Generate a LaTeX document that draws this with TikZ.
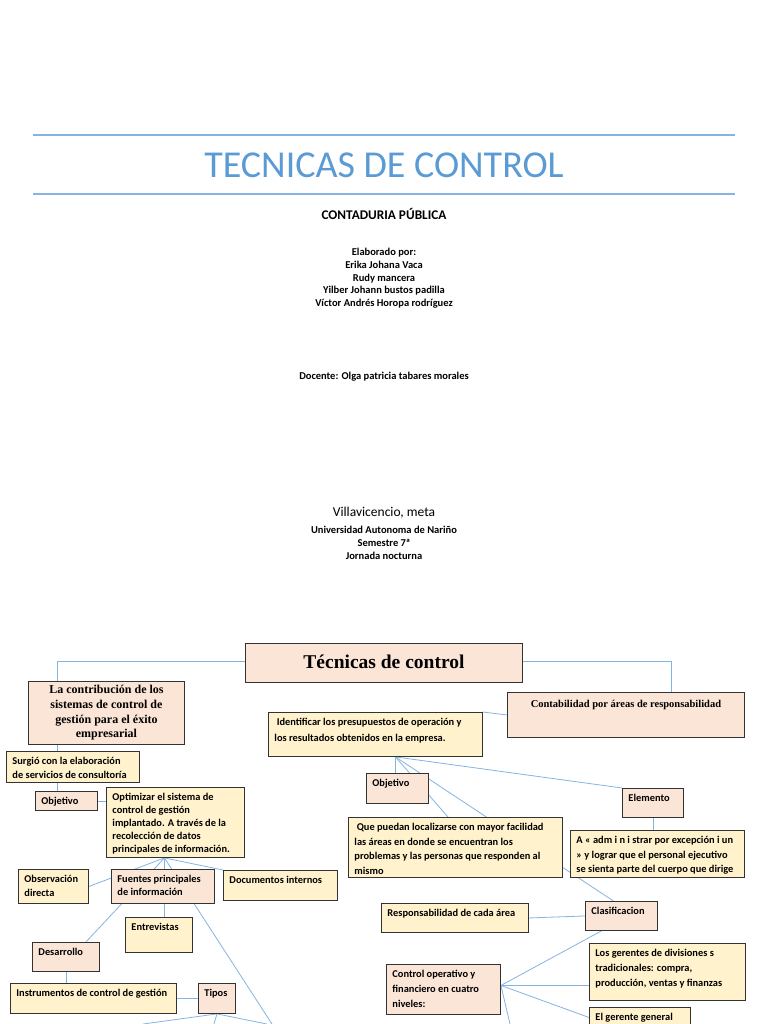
\documentclass[tikz,border=0pt]{standalone}
\usepackage{fontspec}
\setmainfont{Carlito}
\newfontfamily\tnr{Liberation Serif}
\usepackage{tikz}
\usetikzlibrary{positioning, calc, backgrounds}
\definecolor{rosa}{RGB}{251,229,214}
\definecolor{crema}{RGB}{255,242,204}
\definecolor{enlaceazul}{RGB}{132,180,226}
\definecolor{tituloazul}{RGB}{91,155,213}
\newcommand{\cajatxt}[3]{\parbox[t][#2][t]{#1}{\vspace*{2pt}#3}}

\begin{document}
\begin{tikzpicture}[
    x=1pt, y=-1pt,
    rosabox/.style={rectangle, draw=black!80, fill=rosa, line width=0.9pt, anchor=north west, inner xsep=6pt, inner ysep=4pt, font=\bfseries\fontsize{10.4}{14}\selectfont},
    cremabox/.style={rosabox, fill=crema},
    enlace/.style={draw=enlaceazul, line width=0.8pt},
    portada/.style={font=\bfseries\fontsize{10.5}{12.7}\selectfont, align=center}
]
    \useasboundingbox (0,0) rectangle (768,1024);
    % portada
    \draw[enlaceazul, line width=1.2pt] (33,135) -- (735,135);
    \draw[enlaceazul, line width=1.2pt] (33,194) -- (735,194);
    \node[text=tituloazul, font=\fontsize{38}{42}\selectfont] (titulo) at (384,165) {TECNICAS DE CONTROL};
    \node[font=\bfseries\fontsize{13.3}{15}\selectfont] (carrera) at (384,214) {CONTADURIA PÚBLICA};
    \node[portada] (autores) at (384,278.5) {Elaborado por:\\Erika Johana Vaca\\Rudy mancera\\Yilber Johann bustos padilla\\Víctor Andrés Horopa rodríguez};
    \node[portada] (docente) at (384,377) {Docente: Olga patricia tabares morales};
    \node[font=\fontsize{13.5}{15}\selectfont] (ciudad) at (384,513) {Villavicencio, meta};
    \node[portada, font=\bfseries\fontsize{10.5}{13}\selectfont] (univ) at (384,543) {Universidad Autonoma de Nariño\\Semestre 7ª\\Jornada nocturna};

    % mapa
    \node[rosabox, inner sep=0pt, minimum width=277pt, minimum height=39pt, font=\tnr\bfseries\fontsize{19.5}{20}\selectfont] (tecnicas) at (245,643) {\raisebox{3pt}{Técnicas de control}};
    \node[rosabox, inner sep=0pt, minimum width=156pt, minimum height=63pt, align=center, font=\tnr\bfseries\fontsize{12}{14.7}\selectfont] (contrib) at (28,681) {La contribución de los\\sistemas de control de\\gestión para el éxito\\empresarial};
    \node[rosabox, inner ysep=6pt, font=\tnr\bfseries\fontsize{10.5}{12}\selectfont] (contab) at (507,692) {\cajatxt{225pt}{33pt}{\centering Contabilidad por áreas de responsabilidad}};

    \node[cremabox] (surgio) at (6,751) {\cajatxt{121pt}{23pt}{Surgió con la elaboración\\de servicios de consultoría}};
    \node[rosabox] (objizq) at (35,791) {\cajatxt{50pt}{11pt}{Objetivo}};
    \node[cremabox, font=\bfseries\fontsize{10.4}{13}\selectfont] (optim) at (106,787) {\cajatxt{126pt}{62pt}{Optimizar el sistema de\\control de gestión\\implantado. A través de la\\recolección de datos\\principales de información.}};
    \node[cremabox] (observ) at (18,869) {\cajatxt{58pt}{26pt}{Observación\\directa}};
    \node[rosabox, font=\bfseries\fontsize{10.4}{13}\selectfont] (fuentes) at (111,869) {\cajatxt{91pt}{26pt}{Fuentes principales\\de información}};
    \node[cremabox] (docint) at (223,870) {\cajatxt{102pt}{22pt}{Documentos internos}};
    \node[cremabox] (entrev) at (125,917) {\cajatxt{55pt}{27pt}{Entrevistas}};
    \node[rosabox] (desarr) at (32,942) {\cajatxt{55pt}{21pt}{Desarrollo}};
    \node[cremabox] (instrum) at (10,983) {\cajatxt{154pt}{22pt}{Instrumentos de control de gestión}};
    \node[rosabox] (tipos) at (198,983) {\cajatxt{25pt}{22pt}{Tipos}};

    \node[cremabox, font=\bfseries\fontsize{10.4}{16}\selectfont] (identif) at (268,712) {\cajatxt{202pt}{36pt}{\ Identificar los presupuestos de operación y\\los resultados obtenidos en la empresa.}};
    \node[rosabox] (objder) at (366,773) {\cajatxt{50pt}{22pt}{Objetivo}};
    \node[rosabox] (elem) at (622,788) {\cajatxt{49pt}{21pt}{Elemento}};
    \node[cremabox, font=\bfseries\fontsize{10.4}{14.5}\selectfont] (quepue) at (348,817) {\cajatxt{202pt}{52pt}{\ Que puedan localizarse con mayor facilidad\\las áreas en donde se encuentran los\\problemas y las personas que responden al\\mismo}};
    \node[cremabox, font=\bfseries\fontsize{10.4}{14.5}\selectfont] (admin) at (570,830) {\cajatxt{162pt}{39pt}{A « adm i n i strar por excepción i un\\» y lograr que el personal ejecutivo\\se sienta parte del cuerpo que dirige}};
    \node[cremabox] (respon) at (381,903) {\cajatxt{135pt}{21pt}{Responsabilidad de cada área}};
    \node[rosabox] (clasif) at (585,901) {\cajatxt{60pt}{21pt}{Clasificacion}};
    \node[rosabox, font=\bfseries\fontsize{10.4}{15}\selectfont] (control) at (386,964) {\cajatxt{102pt}{42pt}{Control operativo y\\financiero en cuatro\\niveles:}};
    \node[cremabox, font=\bfseries\fontsize{10.4}{15}\selectfont] (gerentes) at (589,943) {\cajatxt{144pt}{49pt}{Los gerentes de divisiones s\\tradicionales: compra,\\producción, ventas y finanzas}};
    \node[cremabox] (gerente) at (589,1007) {\cajatxt{89pt}{22pt}{El gerente general}};

    \coordinate (apexA) at ([xshift=-11pt]optim.south);
    \coordinate (apexB) at ([xshift=20pt]identif.south);
    \coordinate (apexC) at ([yshift=4pt]control.east);
    \coordinate (sigueA) at (272,1024);
    \coordinate (tiposA) at (143,1024);
    \coordinate (tiposB) at (214,1024);
    \coordinate (tiposC) at (267,1024);
    \coordinate (sigueC) at (510,1024);

    \begin{scope}[on background layer]
    \fill[white] (0,0) rectangle (768,1024);
    \draw[enlace] ([yshift=2pt]tecnicas.west) -| ([xshift=29pt]contrib.north west);
    \draw[enlace] ([yshift=2pt]tecnicas.east) -| ([xshift=-74pt]contab.north east);
    \draw[enlace] ([xshift=29pt]contrib.south west) -- ([xshift=51pt]surgio.south west);
    \draw[enlace] ([xshift=51pt]surgio.south west) -- ([xshift=22pt]objizq.north west);
    \draw[enlace] (objizq.east) -- (optim.west |- objizq.east);
    \draw[enlace] (apexA) -- (observ.east);
    \draw[enlace] (apexA) -- ([xshift=20pt]desarr.north);
    \draw[enlace] (apexA) -- (apexA |- entrev.north);
    \draw[enlace] (apexA) -- (sigueA);
    \draw[enlace] (apexA) -- (docint.north west);
    \draw[enlace] (desarr.south) -- (desarr.south |- instrum.north);
    \draw[enlace] (instrum.east) -- (tipos.west);
    \draw[enlace] (tipos.south) -- (tiposA);
    \draw[enlace] (tipos.south) -- (tiposB);
    \draw[enlace] (tipos.south) -- (tiposC);
    \draw[enlace] (contab.west) -- (identif.north east);
    \draw[enlace] (apexB) -- (apexB |- objder.north);
    \draw[enlace] (apexB) -- ([xshift=100pt]quepue.north west);
    \draw[enlace] (apexB) -- ([xshift=-8pt]clasif.north);
    \draw[enlace] (apexB) -- (elem.north west);
    \draw[enlace] (elem.south) -- (elem.south |- admin.north);
    \draw[enlace] (respon.east) -- (clasif.west);
    \draw[enlace] (apexC) -- ([xshift=-20pt]clasif.south);
    \draw[enlace] (apexC) -- (gerentes.west |- apexC);
    \draw[enlace] (apexC) -- ([yshift=5pt]gerente.west);
    \draw[enlace] (apexC) -- (sigueC);
    \end{scope}
\end{tikzpicture}
\end{document}
